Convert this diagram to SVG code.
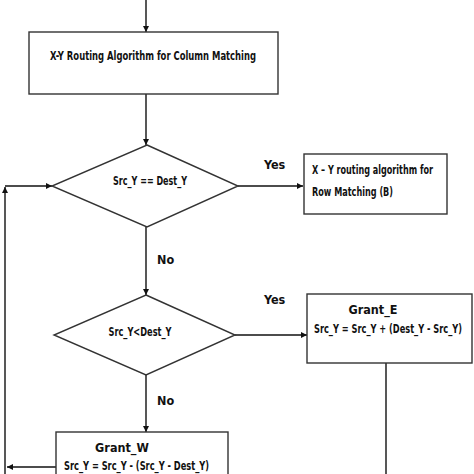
<svg xmlns="http://www.w3.org/2000/svg" width="474" height="474" viewBox="0 0 474 474">
<defs>
<marker id="ah" viewBox="0 0 10 10" refX="10" refY="5" markerWidth="6" markerHeight="6" markerUnits="userSpaceOnUse" orient="auto">
<path d="M0,0 L10,5 L0,10 z" fill="#111"/>
</marker>
<style>
.box{fill:#fff;stroke:#333;stroke-width:1.4}
.ln{fill:none;stroke:#111;stroke-width:1.4}
.t{font-family:"Liberation Sans Narrow","DejaVu Sans Condensed","Liberation Sans",sans-serif;font-weight:bold;font-size:12.5px;fill:#111}
.m{text-anchor:middle}
</style>
</defs>
<rect width="474" height="474" fill="#fff"/>
<g id="connectors">
<line class="ln" x1="146" y1="0" x2="146" y2="32" marker-end="url(#ah)"/>
<line class="ln" x1="146" y1="94" x2="146" y2="145" marker-end="url(#ah)"/>
<line class="ln" x1="238" y1="186" x2="303" y2="186" marker-end="url(#ah)"/>
<line class="ln" x1="146" y1="227" x2="146" y2="295" marker-end="url(#ah)"/>
<line class="ln" x1="235" y1="335" x2="307" y2="335" marker-end="url(#ah)"/>
<line class="ln" x1="146" y1="375" x2="146" y2="432" marker-end="url(#ah)"/>
<line class="ln" x1="386" y1="363" x2="386" y2="474"/>
<line class="ln" x1="56" y1="467" x2="7" y2="467" marker-end="url(#ah)"/>
<line class="ln" x1="5" y1="474" x2="5" y2="187" marker-end="url(#ah)"/>
<polyline class="ln" points="5,186 52,186" marker-end="url(#ah)"/>
<text class="t" x="264" y="169">Yes</text>
<text class="t" x="157" y="264">No</text>
<text class="t" x="264" y="304">Yes</text>
<text class="t" x="157" y="405">No</text>
</g>
<g id="n1">
<rect class="box" x="29" y="32" width="249" height="62"/>
<text class="t m" x="153" y="60" textLength="206" lengthAdjust="spacingAndGlyphs">X-Y Routing Algorithm for Column Matching</text>
</g>
<g id="d1">
<polygon class="box" points="147,145 238,186 147,227 52,186"/>
<text class="t m" x="150" y="185" textLength="74" lengthAdjust="spacingAndGlyphs">Src_Y == Dest_Y</text>
</g>
<g id="n2">
<rect class="box" x="304" y="154" width="143" height="60"/>
<text class="t" x="312" y="174" textLength="121" lengthAdjust="spacingAndGlyphs">X – Y routing algorithm for</text>
<text class="t" x="312" y="196" textLength="81" lengthAdjust="spacingAndGlyphs">Row Matching (B)</text>
</g>
<g id="d2">
<polygon class="box" points="146,295 235,335 146,375 54,335"/>
<text class="t m" x="140" y="336" textLength="63" lengthAdjust="spacingAndGlyphs">Src_Y&lt;Dest_Y</text>
</g>
<g id="n3">
<rect class="box" x="307" y="294" width="165" height="69"/>
<text class="t m" x="373" y="314">Grant_E</text>
<text class="t" x="314" y="333" textLength="148" lengthAdjust="spacingAndGlyphs">Src_Y = Src_Y +  (Dest_Y - Src_Y)</text>
</g>
<g id="n4">
<rect class="box" x="56" y="432" width="172" height="50"/>
<text class="t m" x="122" y="452">Grant_W</text>
<text class="t" x="64" y="470" textLength="145" lengthAdjust="spacingAndGlyphs">Src_Y = Src_Y -  (Src_Y - Dest_Y)</text>
</g>
</svg>
